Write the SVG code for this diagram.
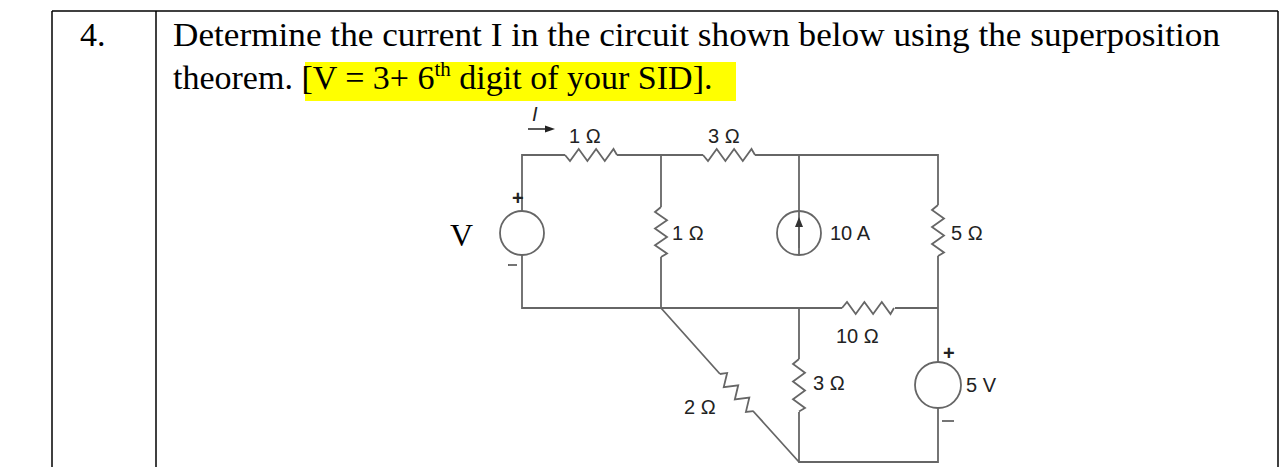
<svg xmlns="http://www.w3.org/2000/svg" width="1284" height="467" viewBox="0 0 1284 467">
<style>
.t{font-family:"Liberation Serif",serif;font-size:34px;fill:#000}
.l{font-family:"Liberation Sans",sans-serif;font-size:20px;fill:#222}
.w{fill:none;stroke:#666;stroke-width:1.8}
.b{fill:none;stroke:#000;stroke-width:1.5}
</style>
<rect x="0" y="0" width="1284" height="467" fill="#fff"/>
<g id="table">
<line class="b" x1="52" y1="11" x2="1278" y2="11"/>
<line class="b" x1="52" y1="11" x2="52" y2="467"/>
<line class="b" x1="156" y1="11" x2="156" y2="467"/>
<line class="b" x1="1278" y1="11" x2="1278" y2="467"/>
</g>
<g id="question">
<text class="t" x="80" y="46">4.</text>
<text class="t" x="173" y="46" textLength="1047" lengthAdjust="spacingAndGlyphs">Determine the current I in the circuit shown below using the superposition</text>
<rect x="305" y="62" width="431" height="39" fill="#ffff00"/>
<text class="t" x="173" y="89" font-size="35">theorem. [V = 3+ 6<tspan font-size="21" dy="-13">th</tspan><tspan dy="13"> digit of your SID].</tspan></text>
</g>
<g id="connectors">
<path class="w" d="M522,211 V155 H565 M617,155 H703 M755,155 H938 V205 M938,256 V308 M522,255 V308 H842 M895,308 H938 V362 M938,408 V462 H799 V412 M799,359 V308 M799,255 V155 M661,155 V207 M661,257 V308 M661,308 L720,374 M753,411 L799,462"/>
</g>
<g id="R1top"><path class="w" d="M565,155 l5,6 l8.7,-12 l8.7,12 l8.7,-12 l8.7,12 l8.7,-12 l3.5,6"/><text class="l" x="569" y="143">1 Ω</text></g>
<g id="R3top"><path class="w" d="M703,155 l5,6 l8.7,-12 l8.7,12 l8.7,-12 l8.7,12 l8.7,-12 l3.5,6"/><text class="l" x="708" y="143">3 Ω</text></g>
<g id="R1mid"><path class="w" d="M661,207 l-6,5 l12,8.3 l-12,8.3 l12,8.3 l-12,8.3 l12,8.3 l-6,3.5"/><text class="l" x="672" y="240">1 Ω</text></g>
<g id="R5"><path class="w" d="M938,205 l-6,5 l12,8.5 l-12,8.5 l12,8.5 l-12,8.5 l12,8.5 l-6,3.5"/><text class="l" x="951" y="240">5 Ω</text></g>
<g id="R10"><path class="w" d="M842,308 l5,-6 l8.7,12 l8.7,-12 l8.7,12 l8.7,-12 l8.7,12 l3.5,-6"/><text class="l" x="836" y="343">10 Ω</text></g>
<g id="R3bot"><path class="w" d="M799,359 l-6,5 l12,8.8 l-12,8.8 l12,8.8 l-12,8.8 l12,8.8 l-6,3.5"/><text class="l" x="813" y="390">3 Ω</text></g>
<g id="R2"><path class="w" transform="translate(720,374) rotate(48.1)" d="M0,0 l4,-6 l8.3,12 l8.3,-12 l8.3,12 l8.3,-12 l8.3,12 l4.5,-6"/><text class="l" x="684" y="414">2 Ω</text></g>
<g id="Vsrc"><circle class="w" cx="522" cy="233" r="22" fill="#fff"/><text class="l" x="512" y="205" font-size="15" font-weight="bold">+</text><line class="w" x1="508" y1="265" x2="517" y2="265"/><text x="450" y="246" font-family="Liberation Serif,serif" font-size="32">V</text></g>
<g id="Isrc"><circle class="w" cx="799" cy="233" r="22" fill="#fff"/><line class="w" x1="799" y1="248" x2="799" y2="222"/><path d="M799,217 l-4,10 h8 z" fill="#333"/><text class="l" x="830" y="240">10 A</text></g>
<g id="V5"><circle class="w" cx="938" cy="385" r="23" fill="#fff"/><text class="l" x="943" y="360" font-size="15" font-weight="bold">+</text><line class="w" x1="942" y1="421" x2="954" y2="421"/><text class="l" x="966" y="392">5 V</text></g>
<g id="Ilabel"><line x1="528" y1="129" x2="548" y2="129" stroke="#222" stroke-width="1.5"/><path d="M555,129 l-10,-3.5 v7 z" fill="#222"/><text class="l" x="532" y="121" font-style="italic" font-size="17">I</text></g>
</svg>
